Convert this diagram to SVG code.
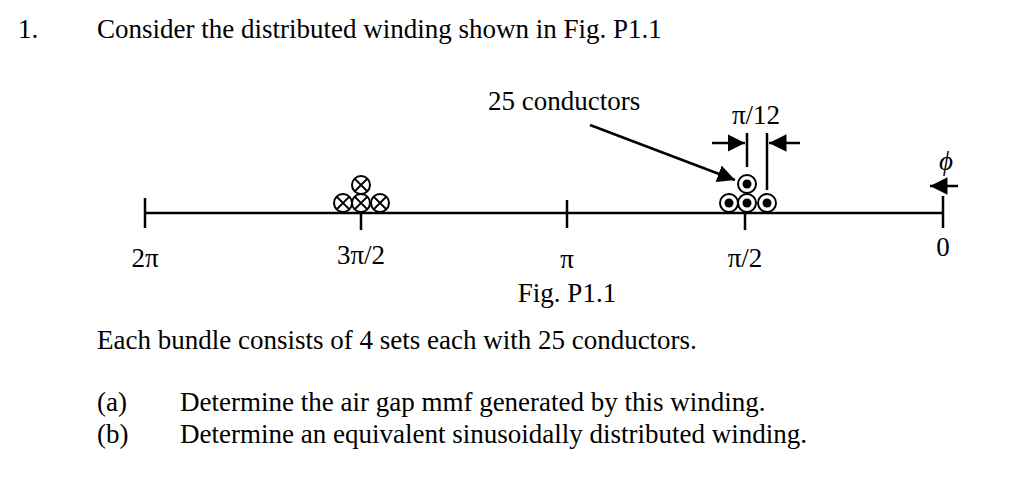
<svg xmlns="http://www.w3.org/2000/svg" width="1024" height="477" viewBox="0 0 1024 477">
<style>
text{font-family:"Liberation Serif","Times New Roman",serif;fill:#000;font-size:27px}
.l{stroke:#000;stroke-width:2.5;fill:none}
.c{stroke:#000;stroke-width:2;fill:#fff}
</style>
<defs>
<marker id="a" viewBox="0 0 10 10" refX="10" refY="5" markerWidth="7" markerHeight="7" orient="auto" markerUnits="strokeWidth"><path d="M0,0L10,5L0,10z" fill="#000"/></marker>
<g id="x"><circle r="9" class="c"/><path d="M-6,-6L6,6M-6,6L6,-6" stroke="#000" stroke-width="1.8"/></g>
<g id="d"><circle r="9" class="c"/><circle r="4.5" fill="#000"/></g>
</defs>
<rect width="1024" height="477" fill="#fff"/>
<text x="18" y="38">1.</text>
<text x="97" y="38">Consider the distributed winding shown in Fig. P1.1</text>
<g id="axis">
<path class="l" d="M145,213H943M145,198V228M361,213V230M567,200V228M745,213V230M943,196V228"/>
</g>
<g id="labels">
<text x="145" y="267" text-anchor="middle">2π</text>
<text x="361" y="264" text-anchor="middle">3π/2</text>
<text x="567" y="268" text-anchor="middle">π</text>
<text x="745" y="267" text-anchor="middle">π/2</text>
<text x="943" y="256" text-anchor="middle" font-size="22">0</text>
<text x="567" y="302" text-anchor="middle">Fig. P1.1</text>
</g>
<g id="bundle1">
<use href="#x" x="343" y="203"/><use href="#x" x="380" y="203"/><use href="#x" x="361" y="203"/><use href="#x" x="361" y="185"/>
</g>
<g id="bundle2">
<use href="#d" x="729" y="203"/><use href="#d" x="767" y="203"/><use href="#d" x="747" y="203"/><use href="#d" x="747" y="184"/>
</g>
<g id="connectors">
<path class="l" stroke-width="1.8" d="M590,125L735,180" marker-end="url(#a)"/>
<path class="l" stroke-width="1.8" d="M747,133V167M767,133V190"/>
<path class="l" stroke-width="1.8" d="M712,143H745" marker-end="url(#a)"/>
<path class="l" stroke-width="1.8" d="M800,143H769" marker-end="url(#a)"/>
<path class="l" stroke-width="1.8" d="M958,186H930" marker-end="url(#a)"/>
</g>
<text x="488" y="110" font-size="26">25 conductors</text>
<text x="756" y="124" text-anchor="middle" font-size="29">π/12</text>
<text x="946" y="170" text-anchor="middle" font-style="italic">ϕ</text>
<text x="97" y="349">Each bundle consists of 4 sets each with 25 conductors.</text>
<text x="97" y="411">(a)</text>
<text x="180" y="411">Determine the air gap mmf generated by this winding.</text>
<text x="97" y="443">(b)</text>
<text x="180" y="443">Determine an equivalent sinusoidally distributed winding.</text>
</svg>
